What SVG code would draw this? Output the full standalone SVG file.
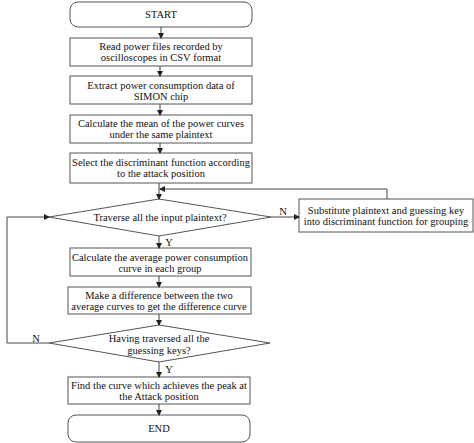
<svg xmlns="http://www.w3.org/2000/svg" width="474" height="443" viewBox="0 0 474 443">
<style>
.b{fill:#fff;stroke:#555;stroke-width:1}
.t{font-family:"Liberation Serif","Times New Roman",serif;font-size:10.5px;fill:#111;text-anchor:middle}
.l{fill:none;stroke:#444;stroke-width:1}
</style>
<defs>
<marker id="a" markerWidth="6" markerHeight="6" refX="5" refY="3" orient="auto" markerUnits="userSpaceOnUse">
<path d="M0,0 L6,3 L0,6 Z" fill="#222"/>
</marker>
</defs>
<rect width="474" height="443" fill="#fff"/>
<g id="start"><rect class="b" x="70" y="2" width="182" height="25" rx="8"/><text class="t" x="161" y="18">START</text></g>
<g id="n1"><rect class="b" x="70" y="38" width="182" height="28"/><text class="t" x="161" y="50">Read power files recorded by</text><text class="t" x="161" y="61">oscilloscopes in CSV format</text></g>
<g id="n2"><rect class="b" x="70" y="76" width="182" height="28"/><text class="t" x="161" y="89">Extract power consumption data of</text><text class="t" x="161" y="100">SIMON chip</text></g>
<g id="n3"><rect class="b" x="70" y="115" width="182" height="28"/><text class="t" x="161" y="127">Calculate the mean of the power curves</text><text class="t" x="161" y="138">under the same plaintext</text></g>
<g id="n4"><rect class="b" x="70" y="153" width="182" height="30"/><text class="t" x="161" y="166">Select the discriminant function according</text><text class="t" x="161" y="177">to the attack position</text></g>
<g id="d1"><polygon class="b" points="159,199 271,217 159,236 49,217"/><text class="t" x="160" y="221">Traverse all the input plaintext?</text></g>
<g id="sub"><rect class="b" x="299" y="199" width="174" height="33"/><text class="t" x="386" y="214">Substitute plaintext and guessing key</text><text class="t" x="386" y="225">into discriminant function for grouping</text></g>
<g id="n5"><rect class="b" x="70" y="248" width="181" height="28"/><text class="t" x="160" y="261">Calculate the average power consumption</text><text class="t" x="160" y="272">curve in each group</text></g>
<g id="n6"><rect class="b" x="68" y="287" width="183" height="27"/><text class="t" x="159" y="299">Make a difference between the two</text><text class="t" x="159" y="310">average curves to get the difference curve</text></g>
<g id="d2"><polygon class="b" points="159,325 270,343 159,362 49,343"/><text class="t" x="159" y="342">Having traversed all the</text><text class="t" x="159" y="354">guessing keys?</text></g>
<g id="n7"><rect class="b" x="68" y="377" width="182" height="27"/><text class="t" x="159" y="389">Find the curve which achieves the peak at</text><text class="t" x="159" y="400">the Attack position</text></g>
<g id="end"><rect class="b" x="68" y="415" width="182" height="27" rx="8"/><text class="t" x="159" y="432">END</text></g>
<g id="connectors">
<path class="l" d="M161,27 V38" marker-end="url(#a)"/>
<path class="l" d="M160,66 V76" marker-end="url(#a)"/>
<path class="l" d="M160,104 V115" marker-end="url(#a)"/>
<path class="l" d="M160,143 V153" marker-end="url(#a)"/>
<path class="l" d="M159,183 V199" marker-end="url(#a)"/>
<path class="l" d="M387,199 V189 H160" marker-end="url(#a)"/>
<path class="l" d="M271,217 H299" marker-end="url(#a)"/>
<path class="l" d="M159,236 V248" marker-end="url(#a)"/>
<path class="l" d="M159,276 V287" marker-end="url(#a)"/>
<path class="l" d="M159,314 V325" marker-end="url(#a)"/>
<path class="l" d="M49,343 H7 V217 H49" marker-end="url(#a)"/>
<path class="l" d="M159,362 V377" marker-end="url(#a)"/>
<path class="l" d="M159,404 V415" marker-end="url(#a)"/>
<text class="t" x="283" y="215">N</text>
<text class="t" x="169" y="246">Y</text>
<text class="t" x="36" y="342">N</text>
<text class="t" x="169" y="373">Y</text>
</g>
</svg>
